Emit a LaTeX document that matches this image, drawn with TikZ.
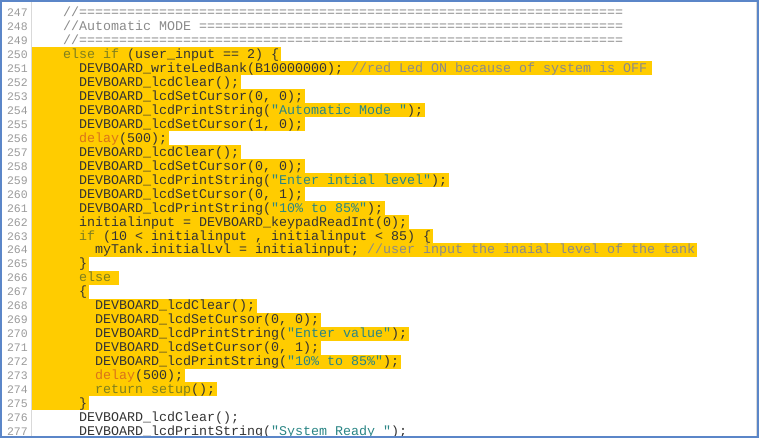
\documentclass[tikz,border=0pt]{standalone}
\usepackage{fontspec}
\newfontfamily\code{Liberation Mono}
\usetikzlibrary{backgrounds}
\definecolor{txt}{HTML}{333333}
\definecolor{cmt}{HTML}{8A8A8A}
\definecolor{kwd}{HTML}{7F7F1F}
\definecolor{str}{HTML}{2A8585}
\definecolor{fnc}{HTML}{D9731A}
\definecolor{hl}{HTML}{FFCC00}
\definecolor{frame}{HTML}{5B86C8}
\definecolor{lnum}{HTML}{9A9A9A}
\newcommand\cm[1]{\textcolor{cmt}{#1}}
\newcommand\kw[1]{\textcolor{kwd}{#1}}
\newcommand\st[1]{\textcolor{str}{#1}}
\newcommand\dl[1]{\textcolor{fnc}{#1}}
\tikzset{codetext/.style={anchor=base west,inner sep=0pt,font=\code\fontsize{13.33}{14}\selectfont,text=txt},
numtext/.style={anchor=base east,inner sep=0pt,font=\code\fontsize{11.5}{14}\selectfont,text=lnum}}
% #1 number, #2 row index, #3 indent chars, #4 text, #5 highlight pad (empty = none)
\newcommand\codeline[5]{%
  \node[numtext] (N#1) at (28,{16.5+#2*13.97}) {#1};
  \node[codetext] (L#1) at ({31+#3*8},{16.5+#2*13.97}) {#4};
  \ifx\relax#5\relax\else
  \begin{scope}[on background layer]
  \fill[hl] (32,{12.3+#2*13.97-7}) rectangle ([xshift=#5]L#1.east |- 0,{12.3+#2*13.97+7});
  \end{scope}\fi}
\begin{document}
\begin{tikzpicture}[x=1pt,y=-1pt]
\useasboundingbox (0,0) rectangle (759,438);
\codeline{247}{0}{4}{\cm{//====================================================================}}{}
\codeline{248}{1}{4}{\cm{//Automatic MODE =====================================================}}{}
\codeline{249}{2}{4}{\cm{//====================================================================}}{}
\codeline{250}{3}{4}{\kw{else if} (user\_input == 2) \{}{2pt}
\codeline{251}{4}{6}{DEVBOARD\_writeLedBank(B10000000); \cm{//red Led ON because of system is OFF}}{5pt}
\codeline{252}{5}{6}{DEVBOARD\_lcdClear();}{2pt}
\codeline{253}{6}{6}{DEVBOARD\_lcdSetCursor(0, 0);}{2pt}
\codeline{254}{7}{6}{DEVBOARD\_lcdPrintString(\st{"Automatic Mode "});}{2pt}
\codeline{255}{8}{6}{DEVBOARD\_lcdSetCursor(1, 0);}{2pt}
\codeline{256}{9}{6}{\dl{delay}(500);}{2pt}
\codeline{257}{10}{6}{DEVBOARD\_lcdClear();}{2pt}
\codeline{258}{11}{6}{DEVBOARD\_lcdSetCursor(0, 0);}{2pt}
\codeline{259}{12}{6}{DEVBOARD\_lcdPrintString(\st{"Enter intial level"});}{2pt}
\codeline{260}{13}{6}{DEVBOARD\_lcdSetCursor(0, 1);}{2pt}
\codeline{261}{14}{6}{DEVBOARD\_lcdPrintString(\st{"10\% to 85\%"});}{2pt}
\codeline{262}{15}{6}{initialinput = DEVBOARD\_keypadReadInt(0);}{2pt}
\codeline{263}{16}{6}{\kw{if} (10 < initialinput , initialinput < 85) \{}{2pt}
\codeline{264}{17}{8}{myTank.initialLvl = initialinput; \cm{//user input the inaial level of the tank}}{2pt}
\codeline{265}{18}{6}{\}}{2pt}
\codeline{266}{19}{6}{\kw{else}}{8pt}
\codeline{267}{20}{6}{\{}{2pt}
\codeline{268}{21}{8}{DEVBOARD\_lcdClear();}{2pt}
\codeline{269}{22}{8}{DEVBOARD\_lcdSetCursor(0, 0);}{2pt}
\codeline{270}{23}{8}{DEVBOARD\_lcdPrintString(\st{"Enter value"});}{2pt}
\codeline{271}{24}{8}{DEVBOARD\_lcdSetCursor(0, 1);}{2pt}
\codeline{272}{25}{8}{DEVBOARD\_lcdPrintString(\st{"10\% to 85\%"});}{2pt}
\codeline{273}{26}{8}{\dl{delay}(500);}{2pt}
\codeline{274}{27}{8}{\kw{return setup}();}{2pt}
\codeline{275}{28}{6}{\}}{2pt}
\codeline{276}{29}{6}{DEVBOARD\_lcdClear();}{}
\codeline{277}{30}{6}{DEVBOARD\_lcdPrintString(\st{"System Ready "});}{}
\draw[black!15] (31,1) -- (31,437);
\draw[black!15] (756,1) -- (756,437);
\draw[frame,line width=2pt] (1,1) rectangle (758,437);
\end{tikzpicture}
\end{document}
